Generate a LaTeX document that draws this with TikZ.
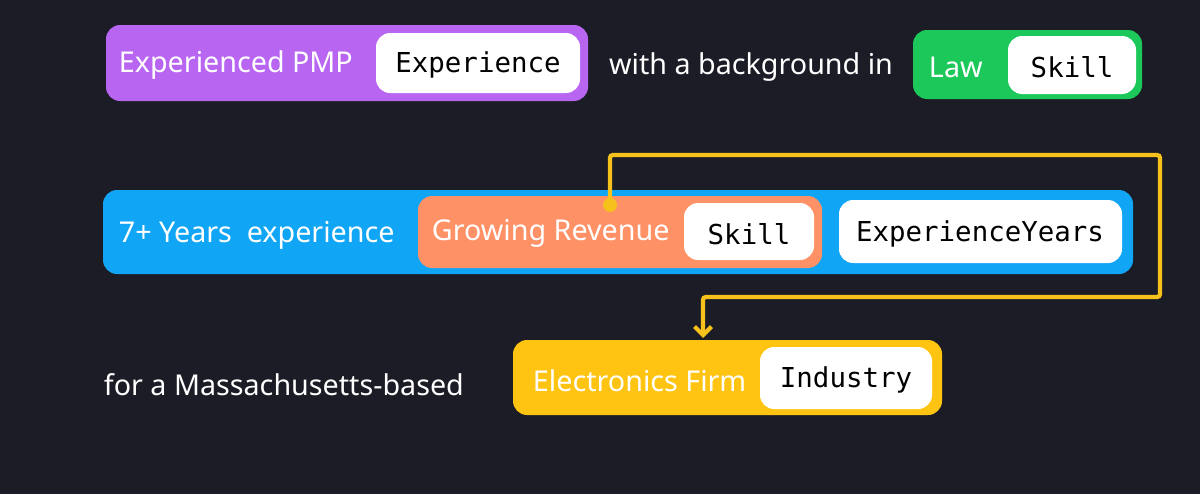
\documentclass[tikz,border=0pt]{standalone}
\usepackage{fontspec}
\setmainfont{Noto Sans}
\setmonofont{DejaVu Sans Mono}
\usetikzlibrary{arrows.meta}
\definecolor{bg}{HTML}{1B1C25}
\definecolor{cpurple}{HTML}{B865F2}
\definecolor{cgreen}{HTML}{1DC85A}
\definecolor{cblue}{HTML}{10A6F5}
\definecolor{corange}{HTML}{FF9166}
\definecolor{cyellow}{HTML}{FFC412}
\definecolor{cline}{HTML}{F5C11A}
\begin{document}
\begin{tikzpicture}[x=0.025cm,y=-0.025cm,
  box/.style={rounded corners=10pt,draw=none},
  wbox/.style={box,fill=white},
  lab/.style={text=white,font=\fontsize{20.4}{24}\selectfont,anchor=west},
  mono/.style={text=black,font=\ttfamily\fontsize{19.5}{24}\selectfont},
  plain/.style={text=white,font=\fontsize{20.4}{24}\selectfont}]
\fill[bg] (0,0) rectangle (1200,494);
\useasboundingbox (0,0) rectangle (1200,494);
% purple
\fill[box,cpurple] (106,25) rectangle (588,101);
\node[lab] (pmp) at (114,65) {Experienced PMP};
\fill[wbox] (376,33) rectangle (580,93);
\node[mono] (exp) at (478,65) {Experience};
\node[plain] (bg) at (751,67) {with a background in};
% green
\fill[box,cgreen] (913,30) rectangle (1142,99);
\node[lab] (law) at (924,67) {Law};
\fill[wbox] (1008,36) rectangle (1136,94);
\node[mono] (sk1) at (1072,67) {Skill};
% blue
\fill[box,cblue] (103,190) rectangle (1133,274);
\node[lab] (yrs) at (114,235) {7+ Years\ \ experience};
\fill[box,corange] (418,196) rectangle (822,268);
\node[lab] (gr) at (427,233) {Growing Revenue};
\fill[wbox] (684,203) rectangle (814,260);
\node[mono] (sk2) at (749,234) {Skill};
\fill[wbox] (839,200) rectangle (1122,263);
\node[mono] (ey) at (980,234) {ExperienceYears};
% bottom
\node[plain,anchor=west] (ma) at (99,385) {for a Massachusetts-based};
\fill[box,cyellow] (513,340) rectangle (942,415);
\node[lab] (ef) at (528,381) {Electronics Firm};
\fill[wbox] (760,347) rectangle (932,409);
\node[mono] (ind) at (846,380) {Industry};
% connector
\coordinate (s) at (610,205);
\coordinate (t) at (703,338);
\fill[cline] (s) circle (7);
\draw[cline,line width=3pt,rounded corners=2pt,-{Straight Barb[length=6pt,width=12pt]}]
  (s) -- (610,155) -- (1160,155) -- (1160,297) -- (703,297) -- (t);
\end{tikzpicture}
\end{document}
